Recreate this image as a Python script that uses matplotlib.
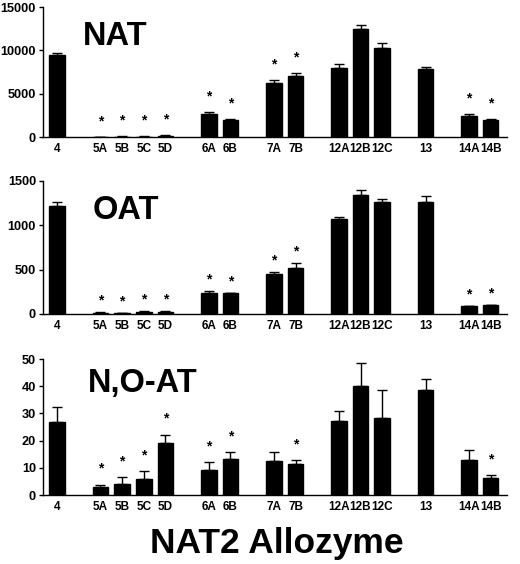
import matplotlib
matplotlib.use("Agg")
import matplotlib.pyplot as plt
import numpy as np

plt.rcParams['font.family'] = ['Liberation Sans', 'DejaVu Sans']
plt.rcParams['font.weight'] = 'bold'

categories = ['4', '5A', '5B', '5C', '5D', '6A', '6B', '7A', '7B',
              '12A', '12B', '12C', '13', '14A', '14B']
slots = [0, 2, 3, 4, 5, 7, 8, 10, 11, 13, 14, 15, 17, 19, 20]

nat_mean = [9500, 30, 60, 60, 150, 2700, 1950, 6250, 7000, 8000, 12500, 10300, 7850, 2450, 2000]
nat_err = [150, 10, 20, 20, 40, 150, 100, 350, 400, 400, 450, 500, 250, 250, 80]
nat_sig = [False, True, True, True, True, True, True, True, True, False, False, False, False, True, True]

oat_mean = [1215, 15, 12, 25, 25, 236, 236, 450, 515, 1069, 1342, 1267, 1260, 86, 97]
oat_err = [45, 5, 4, 6, 6, 19, 4, 25, 55, 22, 57, 27, 71, 9, 4]
oat_sig = [False, True, True, True, True, True, True, True, True, False, False, False, False, True, True]

noat_mean = [27, 2.8, 4.2, 5.8, 19, 9.3, 13.2, 12.5, 11.4, 27.2, 40, 28.2, 38.5, 12.8, 6.2]
noat_err = [5.5, 1.0, 2.3, 3.0, 3.2, 2.8, 2.7, 3.4, 1.4, 3.8, 8.5, 10.3, 4.2, 3.6, 1.1]
noat_sig = [False, True, True, True, True, True, True, False, True, False, False, False, False, False, True]

panels = [
    ("NAT", nat_mean, nat_err, nat_sig, 15000, [0, 5000, 10000, 15000], 1800,
     [0.0827, 0.757, 0.892, 0.2305], (0.086, 0.77)),
    ("OAT", oat_mean, oat_err, oat_sig, 1500, [0, 500, 1000, 1500], 130,
     [0.0827, 0.4433, 0.892, 0.2358], (0.108, 0.78)),
    ("N,O-AT", noat_mean, noat_err, noat_sig, 50, [0, 10, 20, 30, 40, 50], 5.8,
     [0.0827, 0.1223, 0.892, 0.2411], (0.097, 0.82)),
]

fig = plt.figure(figsize=(5.2, 5.64), dpi=100)

for name, mean, err, sig, ymax, yticks, off, rect, lpos in panels:
    ax = fig.add_axes(rect)
    mean = np.array(mean, dtype=float)
    err = np.array(err, dtype=float)
    ax.bar(slots, mean, width=0.72, color='black', edgecolor='black', zorder=2)
    ax.errorbar(slots, mean, yerr=[np.zeros_like(err), err], fmt='none',
                ecolor='black', elinewidth=1, capsize=3.5, capthick=1, zorder=3)
    for x, m, e, s in zip(slots, mean, err, sig):
        if s:
            ax.text(x, m + e + off, '*', ha='center', va='center',
                    fontsize=10, fontweight='bold')
    ax.set_xlim(-0.65, 20.75)
    ax.set_ylim(0, ymax)
    ax.set_yticks(yticks)
    ax.set_xticks(slots)
    ax.set_xticklabels(categories)
    for sp in ['top', 'right']:
        ax.spines[sp].set_visible(False)
    for sp in ['left', 'bottom']:
        ax.spines[sp].set_linewidth(1.0)
    ax.tick_params(axis='y', length=3, width=1, pad=2, labelsize=9.2)
    ax.tick_params(axis='x', length=0, pad=4, labelsize=8.5)
    for lab in ax.get_xticklabels() + ax.get_yticklabels():
        lab.set_fontweight('bold')
    ax.text(lpos[0], lpos[1], name, transform=ax.transAxes, ha='left',
            va='center', fontsize=23.5, fontweight='bold')

fig.text(0.533, 1 - 543 / 564, 'NAT2 Allozyme', ha='center', va='center',
         fontsize=25.5, fontweight='bold')

fig.savefig('out.png', dpi=100, facecolor='white')
